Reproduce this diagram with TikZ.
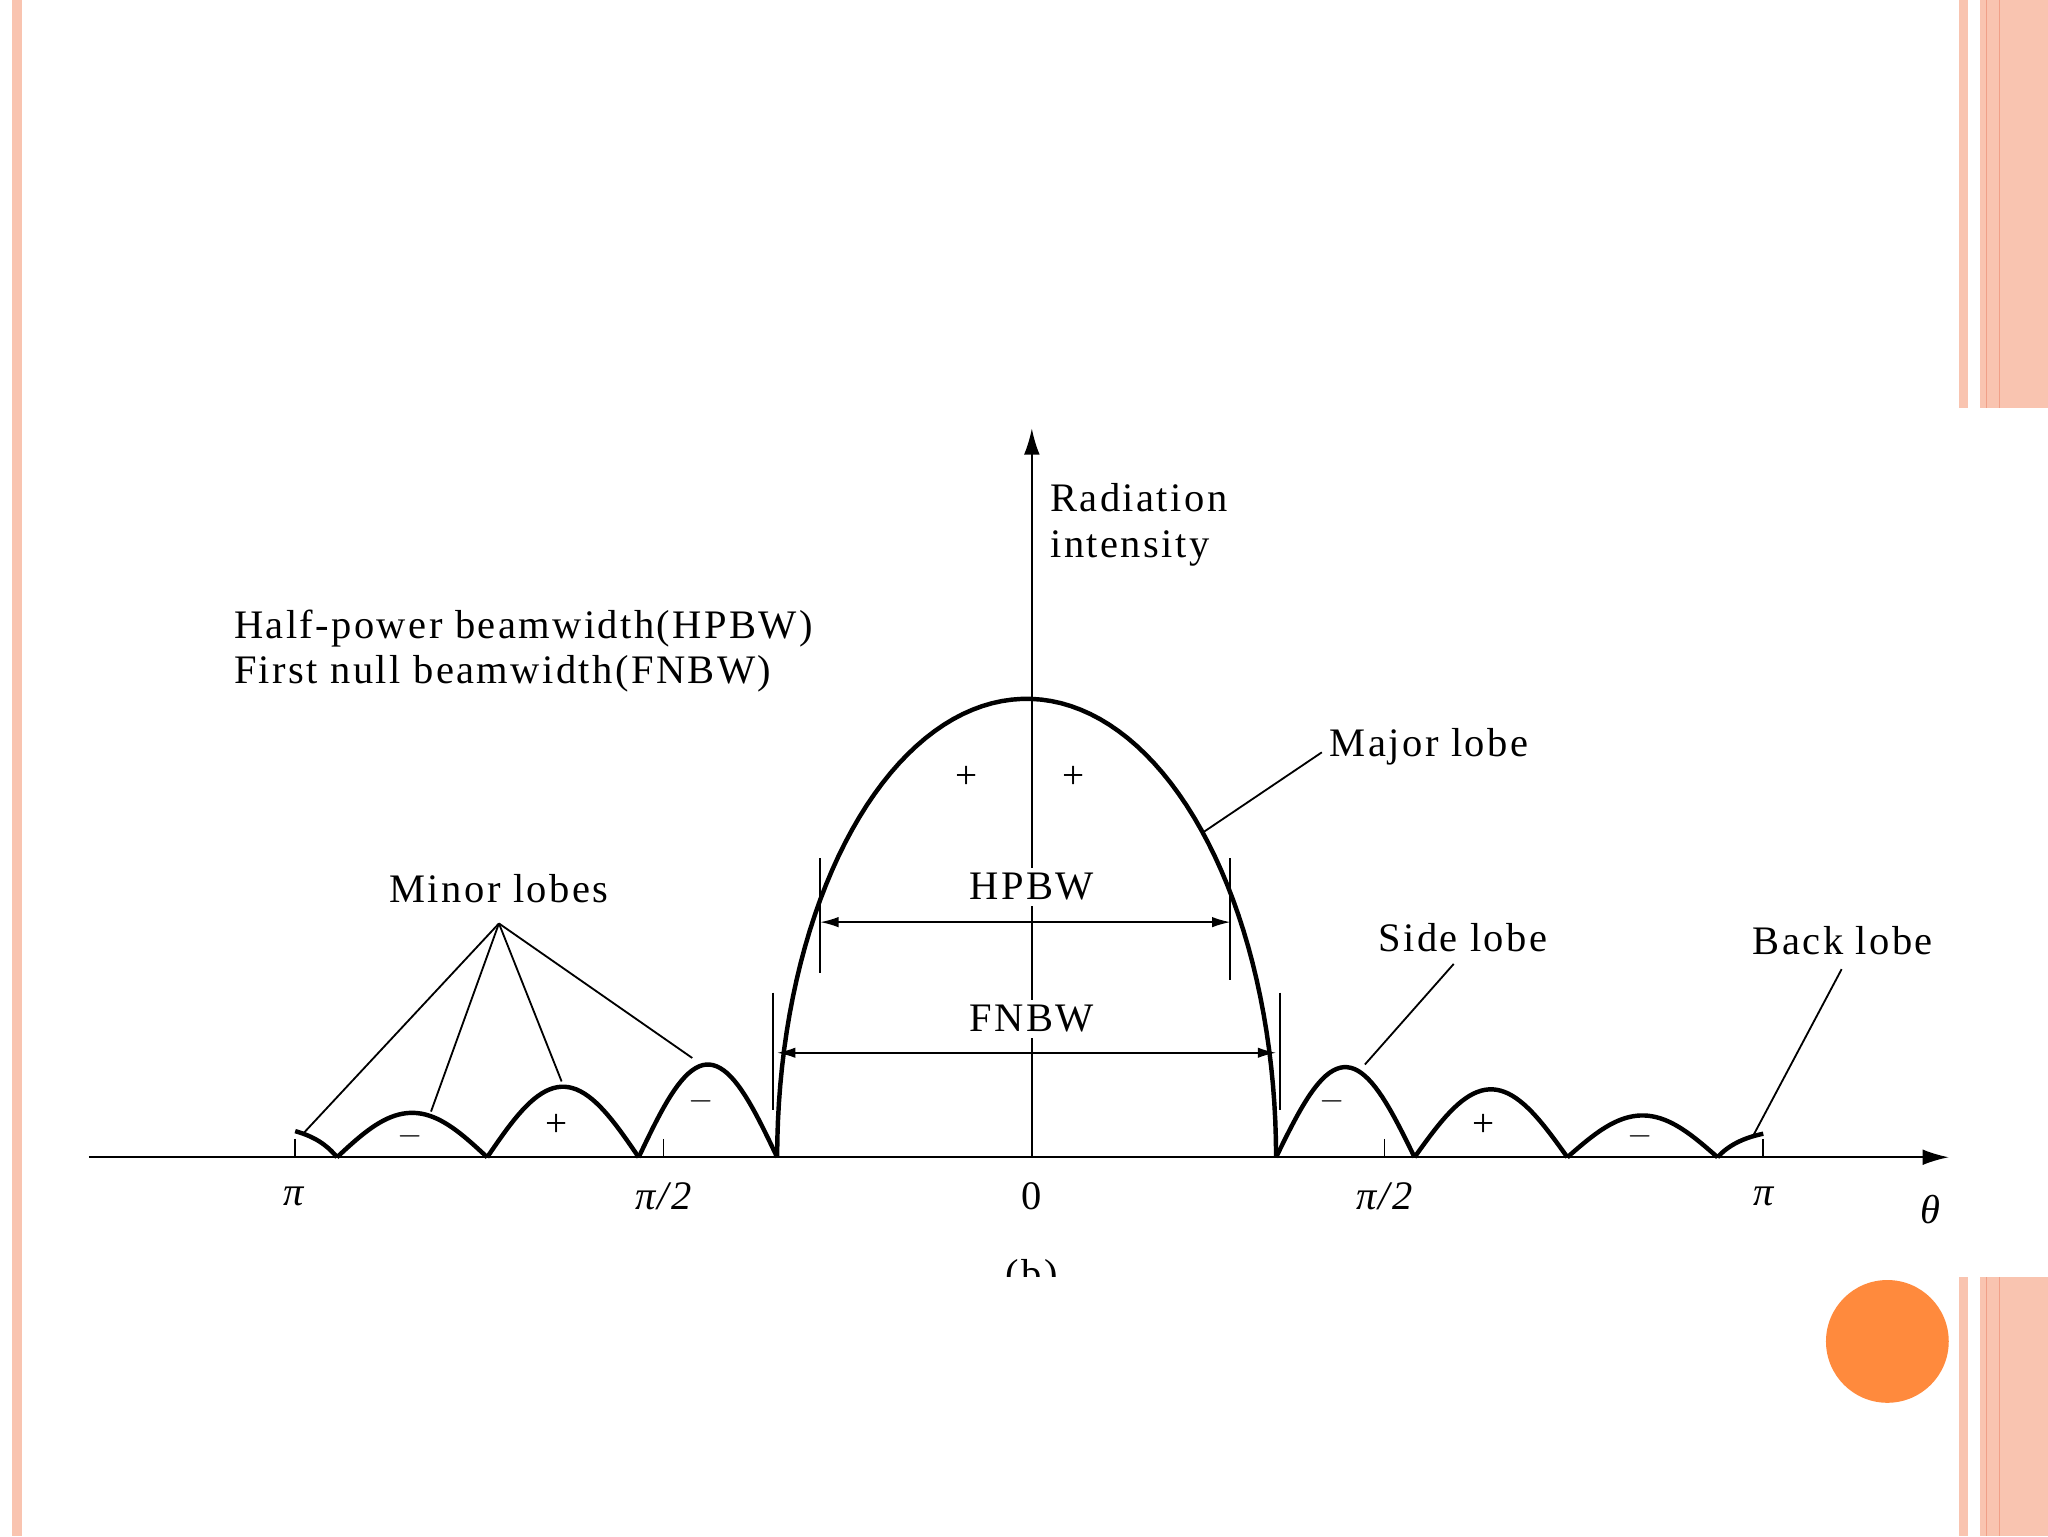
\documentclass[tikz,border=0pt]{standalone}
\usepackage{fontspec}
\usetikzlibrary{arrows.meta}
\setmainfont{Liberation Serif}[LetterSpace=6]
\definecolor{stripe}{HTML}{F9C4B0}
\definecolor{stripedk}{HTML}{F0A088}
\definecolor{dot}{HTML}{FF8A3D}
\begin{document}
\begin{tikzpicture}[x=1pt,y=-1pt,
  lbl/.style={font=\fontsize{31}{35}\selectfont,inner sep=0pt},
  sgn/.style={font=\fontsize{30}{30}\selectfont,inner sep=0pt},
  lobe/.style={line width=3.4pt,line join=round},
  thin/.style={line width=1.4pt},
  tip/.style={-{Latex[length=20,width=12]}},
  dim/.style={line width=1.2pt,{Latex[length=14,width=8]}-{Latex[length=14,width=8]}}]
\useasboundingbox (0,0) rectangle (1568,1176);
\fill[white] (0,0) rectangle (1568,1176);
% borders
\fill[stripe] (9,0) rectangle (17,1176);
\foreach \y/\h in {0/312,978/1176}{
  \fill[stripe] (1500,\y) rectangle (1507,\h);
  \fill[stripe] (1516,\y) rectangle (1568,\h);
  \draw[stripedk,line width=1.2pt] (1521,\y) -- (1521,\h);
  \draw[stripedk,line width=1.2pt] (1531,\y) -- (1531,\h);
}
\fill[dot] (1445,1027) circle (47);
% axes
\coordinate (xl) at (68,886); \coordinate (xr) at (1492,886);
\coordinate (yb) at (790,886); \coordinate (yt) at (790,328);
\draw[thin,tip] (xl) -- (xr);
\draw[thin,tip] (yb) -- (yt);
\foreach \x in {226,508,1060,1350} \draw[thin] (\x,872) -- (\x,886);
% main lobe
\draw[lobe] plot[domain=180:0,samples=80] ({786+191*cos(\x)},{886-351*sin(\x)});
% minor lobes
\foreach \a/\b/\h in {258/373/34,373/489/54,489/595/71,977/1083/69,1083/1200/52,1200/1315/32}
  \draw[lobe] plot[domain=0:180,samples=40] ({\a+(\b-\a)*(\x/180)},{886-\h*sin(\x)});
\draw[lobe] (226,866) .. controls (240,870) and (250,876) .. (258,886);
\draw[lobe] (1315,886) .. controls (1323,877) and (1335,871) .. (1350,868);
% signs
\node[sgn] at (740,595) {+}; \node[sgn] at (822,595) {+};
\node[sgn] at (314,870) {$-$}; \node[sgn] at (426,862) {+}; \node[sgn] at (537,843) {$-$};
\node[sgn] at (1020,843) {$-$}; \node[sgn] at (1136,862) {+}; \node[sgn] at (1256,870) {$-$};
% HPBW / FNBW
\draw[thin] (628,657) -- (628,745); \draw[thin] (942,657) -- (942,750);
\draw[thin] (592,760) -- (592,850); \draw[thin] (980,760) -- (980,850);
\node[lbl,fill=white,inner sep=4pt] (hp) at (790,679) {HPBW};
\node[lbl,fill=white,inner sep=4pt] (fn) at (790,780) {FNBW};
\draw[dim] (628,706) -- (942,706);
\draw[dim] (595,806) -- (977,806);
% labels
\node[lbl,align=left,anchor=west] (ri) at (804,402) {Radiation\\intensity};
\node[lbl,anchor=west] (hpl) at (179,481) {Half-power beamwidth(HPBW)};
\node[lbl,anchor=west] (fnl) at (179,516) {First null beamwidth(FNBW)};
\node[lbl,anchor=west] (maj) at (1018,572) {Major lobe};
\draw[thin] (1012,576) -- (920,638);
\node[lbl] (min) at (382,680) {Minor lobes};
\coordinate (mp) at (382,707);
\foreach \p in {(232,868),(330,851),(430,828),(530,810)} \draw[thin] (mp) -- \p;
\node[lbl] (sl) at (1120,718) {Side lobe};
\draw[thin] (1113,738) -- (1045,815);
\node[lbl] (bl) at (1411,720) {Back lobe};
\draw[thin] (1410,742) -- (1342,870);
% tick labels
\node[lbl] at (225,916) {\itshape π};
\node[lbl] at (508,916) {\itshape π/2};
\node[lbl] at (790,916) {0};
\node[lbl] at (1060,916) {\itshape π/2};
\node[lbl] at (1350,916) {\itshape π};
\node[lbl] at (1478,926) {\itshape θ};
\begin{scope}
\clip (700,950) rectangle (880,977);
\node[lbl] at (790,978) {(b)};
\end{scope}
\end{tikzpicture}
\end{document}
